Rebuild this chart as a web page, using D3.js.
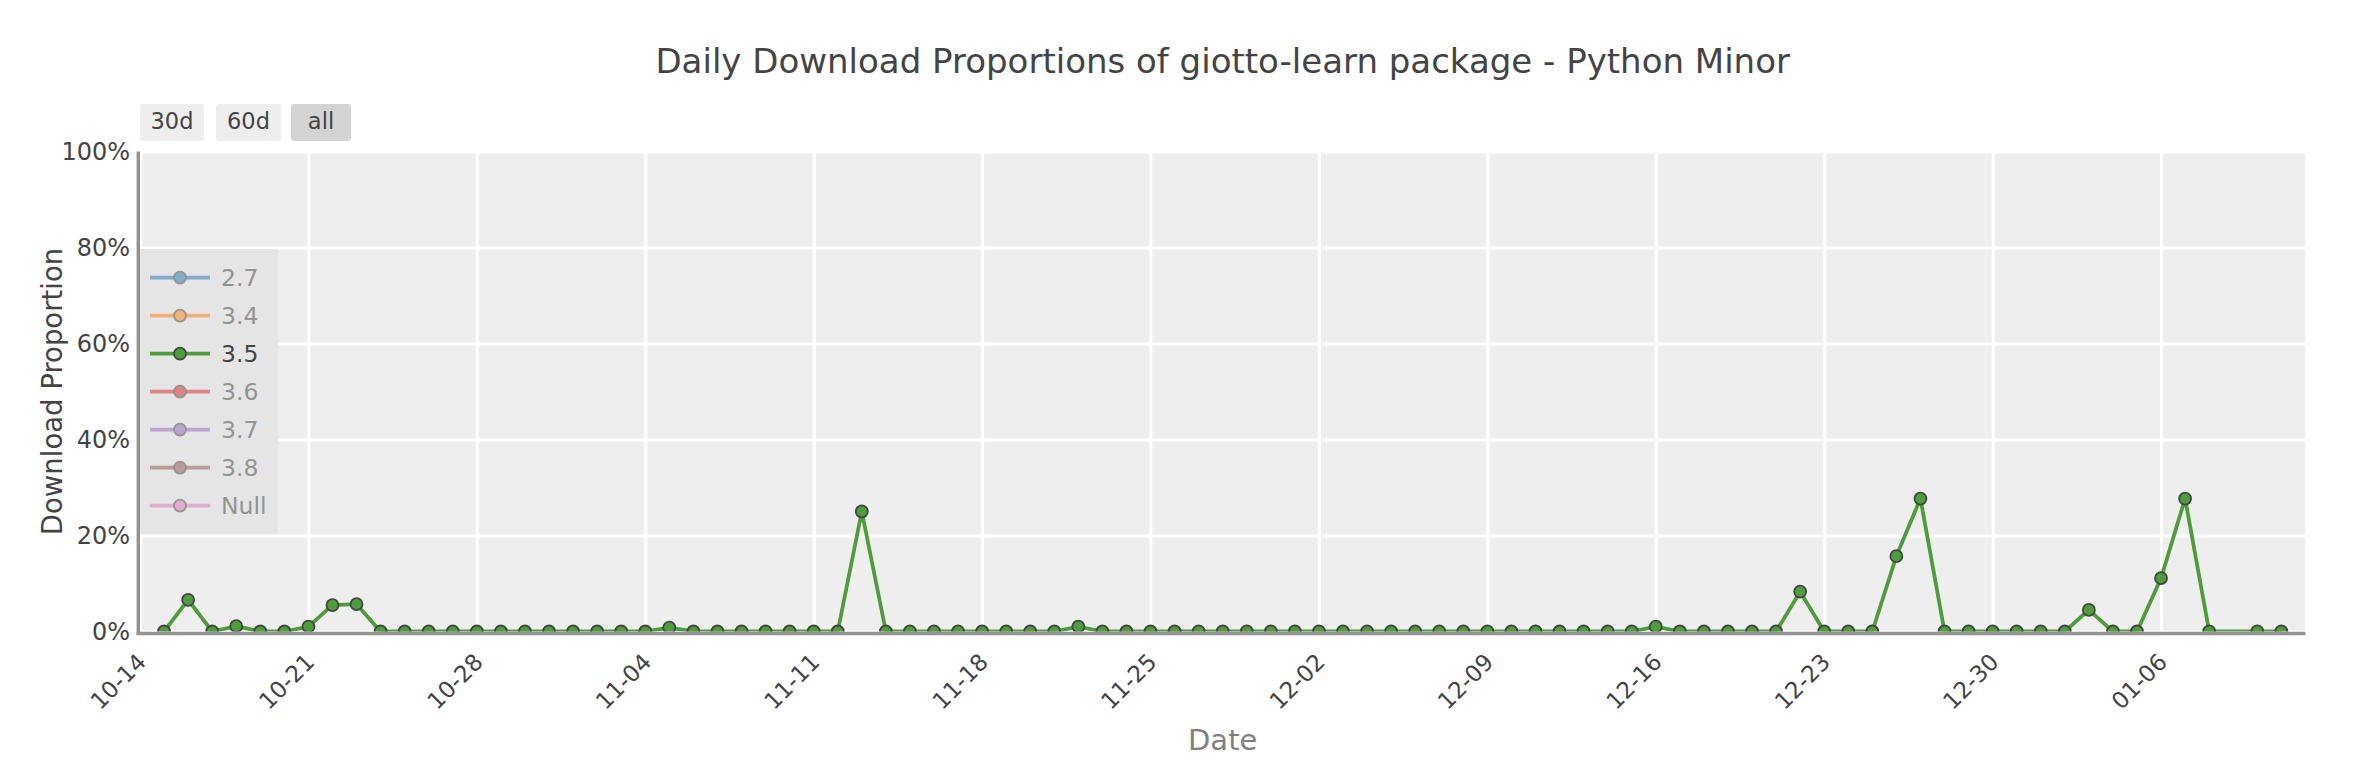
<!DOCTYPE html>
<html><head><meta charset="utf-8">
<script src="https://cdn.jsdelivr.net/npm/d3@7"></script>
<style>
body{margin:0;background:#fff;}
svg{display:block;font-family:"DejaVu Sans",Verdana,sans-serif;}
</style>
</head><body>
<svg id="chart" width="2366" height="780"></svg>
<script>
// ---------- data ----------
const dates = [
 "2019-10-15","2019-10-16","2019-10-17","2019-10-18","2019-10-19","2019-10-20","2019-10-21","2019-10-22","2019-10-23","2019-10-24",
 "2019-10-25","2019-10-26","2019-10-27","2019-10-28","2019-10-29","2019-10-30","2019-10-31","2019-11-01","2019-11-02","2019-11-03",
 "2019-11-04","2019-11-05","2019-11-06","2019-11-07","2019-11-08","2019-11-09","2019-11-10","2019-11-11","2019-11-12","2019-11-13",
 "2019-11-14","2019-11-15","2019-11-16","2019-11-17","2019-11-18","2019-11-19","2019-11-20","2019-11-21","2019-11-22","2019-11-23",
 "2019-11-24","2019-11-25","2019-11-26","2019-11-27","2019-11-28","2019-11-29","2019-11-30","2019-12-01","2019-12-02","2019-12-03",
 "2019-12-04","2019-12-05","2019-12-06","2019-12-07","2019-12-08","2019-12-09","2019-12-10","2019-12-11","2019-12-12","2019-12-13",
 "2019-12-14","2019-12-15","2019-12-16","2019-12-17","2019-12-18","2019-12-19","2019-12-20","2019-12-21","2019-12-22","2019-12-23",
 "2019-12-24","2019-12-25","2019-12-26","2019-12-27","2019-12-28","2019-12-29","2019-12-30","2019-12-31","2020-01-01","2020-01-02",
 "2020-01-03","2020-01-04","2020-01-05","2020-01-06","2020-01-07","2020-01-08","2020-01-10","2020-01-11"
];
const share35 = [
 0, 6.6, 0, 1.1, 0, 0, 1.0, 5.5, 5.7, 0,
 0, 0, 0, 0, 0, 0, 0, 0, 0, 0,
 0, 0.8, 0, 0, 0, 0, 0, 0, 0, 25.0,
 0, 0, 0, 0, 0, 0, 0, 0, 1.0, 0,
 0, 0, 0, 0, 0, 0, 0, 0, 0, 0,
 0, 0, 0, 0, 0, 0, 0, 0, 0, 0,
 0, 0, 1.0, 0, 0, 0, 0, 0, 8.3, 0,
 0, 0, 15.7, 27.7, 0, 0, 0, 0, 0, 0,
 4.5, 0, 0, 11.1, 27.7, 0, 0, 0
];
const xDomain = ["2019-10-14","2020-01-12"];
const tickDates = ["2019-10-14","2019-10-21","2019-10-28","2019-11-04","2019-11-11","2019-11-18","2019-11-25",
 "2019-12-02","2019-12-09","2019-12-16","2019-12-23","2019-12-30","2020-01-06"];
const yTicks = [0, 0.2, 0.4, 0.6, 0.8, 1.0];
const legendNames = ["2.7","3.4","3.5","3.6","3.7","3.8","Null"];
const legendColors = ["#1f77b4","#ff7f0e","#4d9e3a","#d62728","#9467bd","#8c564b","#e377c2"];
const legendShown = [false,false,true,false,false,false,false];
const rangeButtons = ["30d","60d","all"];
const titleText = "Daily Download Proportions of giotto-learn package - Python Minor";

// ---------- layout ----------
const W = 2366, H = 780;
const plot = {l:140, r:2305.4, t:151.5, b:631.5};
const parse = d3.timeParse("%Y-%m-%d");
const fmt = d3.timeFormat("%m-%d");
const data = dates.map((d,i)=>({date:parse(d), v:share35[i]/100}));

const x = d3.scaleTime().domain(xDomain.map(parse)).range([plot.l, plot.r]);
const y = d3.scaleLinear().domain([0,1]).range([plot.b, plot.t]);

const svg = d3.select("#chart");
svg.append("rect").attr("width",W).attr("height",H).attr("fill","#fff");

// plot background
svg.append("rect").attr("x",plot.l).attr("y",plot.t)
  .attr("width",plot.r-plot.l).attr("height",plot.b-plot.t).attr("fill","#eeeeee");

// gridlines
const xAxisG = svg.append("g").attr("transform",`translate(0,${plot.b})`)
  .call(d3.axisBottom(x).tickValues(tickDates.map(parse)).tickSize(-(plot.b-plot.t)).tickFormat(""));
xAxisG.select(".domain").remove();
xAxisG.selectAll("line").attr("stroke","#ffffff").attr("stroke-width",3);

const yAxisG = svg.append("g").attr("transform",`translate(${plot.l},0)`)
  .call(d3.axisLeft(y).tickValues(yTicks).tickSize(-(plot.r-plot.l)).tickFormat(""));
yAxisG.select(".domain").remove();
yAxisG.selectAll("line").attr("stroke","#ffffff").attr("stroke-width",3);

// clip
svg.append("clipPath").attr("id","clip").append("rect")
  .attr("x",plot.l).attr("y",plot.t).attr("width",plot.r-plot.l).attr("height",plot.b-plot.t);

const green = legendColors[2];
const g = svg.append("g").attr("clip-path","url(#clip)");
g.append("path").datum(data)
  .attr("fill","none").attr("stroke",green).attr("stroke-width",3.8).attr("stroke-linejoin","round")
  .attr("d", d3.line().x(d=>x(d.date)).y(d=>y(d.v)));
g.selectAll("circle").data(data).join("circle")
  .attr("cx",d=>x(d.date)).attr("cy",d=>y(d.v)).attr("r",6)
  .attr("fill",green).attr("stroke","#444").attr("stroke-width",1.8);

// axis lines
svg.append("line").attr("x1",plot.l-1.7).attr("x2",plot.l-1.7).attr("y1",plot.t).attr("y2",plot.b+3.5)
  .attr("stroke","#929292").attr("stroke-width",3.4);
svg.append("line").attr("x1",plot.l-3.4).attr("x2",plot.r).attr("y1",plot.b+2).attr("y2",plot.b+2)
  .attr("stroke","#929292").attr("stroke-width",3.6);

// y tick labels
const yl = svg.append("g").attr("transform",`translate(${plot.l},0)`)
  .call(d3.axisLeft(y).tickValues(yTicks).tickSize(0).tickPadding(10).tickFormat(d3.format(".0%")));
yl.select(".domain").remove();
yl.selectAll("text").attr("font-size",24).attr("fill","#444").attr("font-family","DejaVu Sans");

// x tick labels (rotated)
const xl = svg.append("g").attr("transform",`translate(0,${plot.b})`)
  .call(d3.axisBottom(x).tickValues(tickDates.map(parse)).tickSize(0).tickFormat(fmt));
xl.select(".domain").remove();
xl.selectAll("text")
  .attr("font-size",23).attr("fill","#444").attr("font-family","DejaVu Sans")
  .attr("text-anchor","end").attr("dy",null).attr("y",0)
  .attr("transform","translate(7,32) rotate(-45)");

// title
svg.append("text").attr("x",(plot.l+plot.r)/2).attr("y",73).attr("text-anchor","middle")
  .attr("font-size",34).attr("fill","#444").text(titleText);

// axis titles
svg.append("text").attr("x",(plot.l+plot.r)/2).attr("y",750).attr("text-anchor","middle")
  .attr("font-size",29).attr("fill","#808080").text("Date");
svg.append("text").attr("transform",`translate(62,${(plot.t+plot.b)/2}) rotate(-90)`)
  .attr("text-anchor","middle").attr("font-size",27.5).attr("fill","#444").text("Download Proportion");

// range selector buttons
const btnX = [140, 216, 291], btnW = [64, 65, 60];
const bg = svg.append("g");
rangeButtons.forEach((b,i)=>{
  bg.append("rect").attr("x",btnX[i]).attr("y",104).attr("width",btnW[i]).attr("height",37).attr("rx",3)
    .attr("fill", b==="all" ? "#d4d4d4" : "#eeeeee");
  bg.append("text").attr("x",btnX[i]+btnW[i]/2).attr("y",129).attr("text-anchor","middle")
    .attr("font-size",22.5).attr("fill","#444").text(b);
});

// legend
const lg = svg.append("g");
lg.append("rect").attr("x",140).attr("y",249).attr("width",138).attr("height",285).attr("fill","#e5e5e5");
legendNames.forEach((n,i)=>{
  const yy = 277.7 + 38*i;
  const it = lg.append("g").attr("opacity", legendShown[i] ? 1 : 0.5);
  it.append("line").attr("x1",150).attr("x2",210).attr("y1",yy).attr("y2",yy)
    .attr("stroke",legendColors[i]).attr("stroke-width",3.8);
  it.append("circle").attr("cx",180).attr("cy",yy).attr("r",6)
    .attr("fill",legendColors[i]).attr("stroke","#444").attr("stroke-width",1.8);
  it.append("text").attr("x",221).attr("y",yy).attr("dy","0.36em")
    .attr("font-size",23.5).attr("fill","#444").text(n);
});
</script>
</body></html>
